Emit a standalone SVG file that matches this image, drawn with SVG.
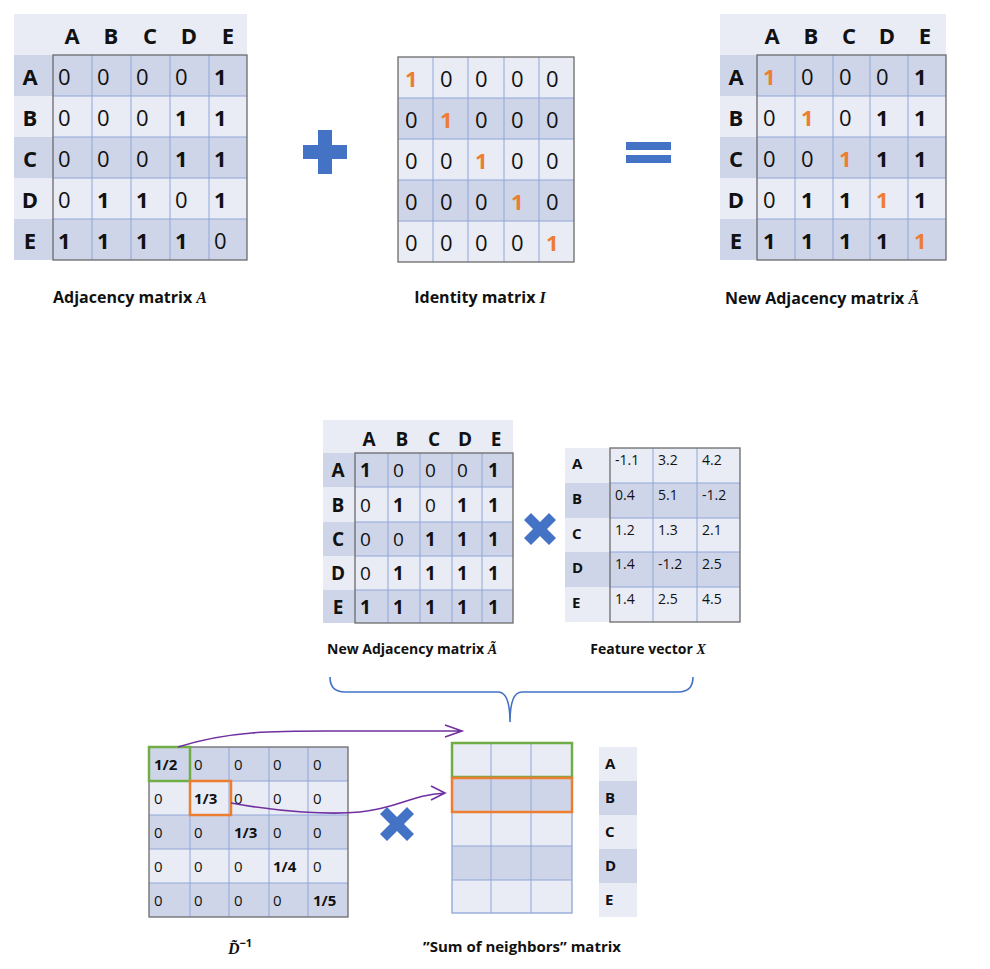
<svg xmlns="http://www.w3.org/2000/svg" width="990" height="969" viewBox="0 0 990 969">
<style>
text{font-family:"Open Sans","Liberation Sans",sans-serif;fill:#111}
.dk{fill:#cfd5e8}.lt{fill:#e9ebf5}
.gl{stroke:#8fa6d8;stroke-width:1;fill:none}
.ob{fill:none;stroke:#6b6b6b;stroke-width:1.3}
.t{font-size:22px}.h{font-size:22px;font-weight:bold}
.b{font-weight:bold}.o{font-weight:bold;fill:#ed7d31}
.m{font-size:19px}.mh{font-size:19px;font-weight:bold}
.s{font-size:14px}.sl{font-size:15px;font-weight:bold}
.d{font-size:15px}
.cap{font-size:16px;font-weight:bold;text-anchor:middle}
.mi{font-family:"Liberation Serif",serif;font-style:italic;font-weight:bold}
.sym{fill:#4472c4}
.pu{fill:none;stroke:#7030a0;stroke-width:1.6}
</style>
<rect width="990" height="969" fill="#fff"/>

<g id="matrixA">
<rect x="14" y="14" width="233" height="41" class="lt"/>
<rect x="14" y="55" width="233" height="41" class="dk"/>
<rect x="14" y="96" width="233" height="41" class="lt"/>
<rect x="14" y="137" width="233" height="41" class="dk"/>
<rect x="14" y="178" width="233" height="41" class="lt"/>
<rect x="14" y="219" width="233" height="41" class="dk"/>
<path class="gl" d="M92 55V260M131 55V260M170 55V260M209 55V260M53 96H247M53 137H247M53 178H247M53 219H247"/>
<rect x="53" y="55" width="194" height="205" class="ob"/>
<g class="h" text-anchor="middle"><text x="72" y="44">A</text><text x="111" y="44">B</text><text x="150" y="44">C</text><text x="189" y="44">D</text><text x="228" y="44">E</text>
<text x="30" y="85">A</text><text x="30" y="126">B</text><text x="30" y="167">C</text><text x="30" y="208">D</text><text x="30" y="249">E</text></g>
<g class="t">
<text x="58" y="85">0</text><text x="97" y="85">0</text><text x="136" y="85">0</text><text x="175" y="85">0</text><text x="214" y="85" class="b">1</text>
<text x="58" y="126">0</text><text x="97" y="126">0</text><text x="136" y="126">0</text><text x="175" y="126" class="b">1</text><text x="214" y="126" class="b">1</text>
<text x="58" y="167">0</text><text x="97" y="167">0</text><text x="136" y="167">0</text><text x="175" y="167" class="b">1</text><text x="214" y="167" class="b">1</text>
<text x="58" y="208">0</text><text x="97" y="208" class="b">1</text><text x="136" y="208" class="b">1</text><text x="175" y="208">0</text><text x="214" y="208" class="b">1</text>
<text x="58" y="249" class="b">1</text><text x="97" y="249" class="b">1</text><text x="136" y="249" class="b">1</text><text x="175" y="249" class="b">1</text><text x="214" y="249">0</text>
</g>
<text x="130" y="303" class="cap">Adjacency matrix <tspan class="mi">A</tspan></text>
</g>

<g id="plus"><path class="sym" d="M318 130h14v15h15v14h-15v15h-14v-15h-15v-14h15z"/></g>

<g id="identity">
<rect x="398" y="57" width="176" height="41" class="lt"/>
<rect x="398" y="98" width="176" height="41" class="dk"/>
<rect x="398" y="139" width="176" height="41" class="lt"/>
<rect x="398" y="180" width="176" height="41" class="dk"/>
<rect x="398" y="221" width="176" height="41" class="lt"/>
<path class="gl" d="M433 57V262M468 57V262M504 57V262M539 57V262M398 98H574M398 139H574M398 180H574M398 221H574"/>
<rect x="398" y="57" width="176" height="205" class="ob"/>
<g class="t">
<text x="405" y="87" class="o">1</text><text x="440" y="87">0</text><text x="475" y="87">0</text><text x="511" y="87">0</text><text x="546" y="87">0</text>
<text x="405" y="128">0</text><text x="440" y="128" class="o">1</text><text x="475" y="128">0</text><text x="511" y="128">0</text><text x="546" y="128">0</text>
<text x="405" y="169">0</text><text x="440" y="169">0</text><text x="475" y="169" class="o">1</text><text x="511" y="169">0</text><text x="546" y="169">0</text>
<text x="405" y="210">0</text><text x="440" y="210">0</text><text x="475" y="210">0</text><text x="511" y="210" class="o">1</text><text x="546" y="210">0</text>
<text x="405" y="251">0</text><text x="440" y="251">0</text><text x="475" y="251">0</text><text x="511" y="251">0</text><text x="546" y="251" class="o">1</text>
</g>
<text x="480" y="303" class="cap">Identity matrix <tspan class="mi">I</tspan></text>
</g>

<g id="equals"><rect x="626" y="142" width="45" height="8" class="sym"/><rect x="626" y="155" width="45" height="8" class="sym"/></g>

<g id="newA">
<rect x="720" y="14" width="226" height="41" class="lt"/>
<rect x="720" y="55" width="226" height="41" class="dk"/>
<rect x="720" y="96" width="226" height="41" class="lt"/>
<rect x="720" y="137" width="226" height="41" class="dk"/>
<rect x="720" y="178" width="226" height="41" class="lt"/>
<rect x="720" y="219" width="226" height="41" class="dk"/>
<path class="gl" d="M795 55V260M833 55V260M870 55V260M908 55V260M757 96H946M757 137H946M757 178H946M757 219H946"/>
<rect x="757" y="55" width="189" height="205" class="ob"/>
<g class="h" text-anchor="middle"><text x="772" y="44">A</text><text x="811" y="44">B</text><text x="849" y="44">C</text><text x="887" y="44">D</text><text x="925" y="44">E</text>
<text x="736" y="85">A</text><text x="736" y="126">B</text><text x="736" y="167">C</text><text x="736" y="208">D</text><text x="736" y="249">E</text></g>
<g class="t">
<text x="763" y="85" class="o">1</text><text x="801" y="85">0</text><text x="839" y="85">0</text><text x="876" y="85">0</text><text x="914" y="85" class="b">1</text>
<text x="763" y="126">0</text><text x="801" y="126" class="o">1</text><text x="839" y="126">0</text><text x="876" y="126" class="b">1</text><text x="914" y="126" class="b">1</text>
<text x="763" y="167">0</text><text x="801" y="167">0</text><text x="839" y="167" class="o">1</text><text x="876" y="167" class="b">1</text><text x="914" y="167" class="b">1</text>
<text x="763" y="208">0</text><text x="801" y="208" class="b">1</text><text x="839" y="208" class="b">1</text><text x="876" y="208" class="o">1</text><text x="914" y="208" class="b">1</text>
<text x="763" y="249" class="b">1</text><text x="801" y="249" class="b">1</text><text x="839" y="249" class="b">1</text><text x="876" y="249" class="b">1</text><text x="914" y="249" class="o">1</text>
</g>
<text x="822" y="304" class="cap">New Adjacency matrix <tspan class="mi">Ã</tspan></text>
</g>

<g id="newA2">
<rect x="323" y="420" width="190" height="33" class="lt"/>
<rect x="323" y="453" width="190" height="34" class="dk"/>
<rect x="323" y="487" width="190" height="35" class="lt"/>
<rect x="323" y="522" width="190" height="34" class="dk"/>
<rect x="323" y="556" width="190" height="34" class="lt"/>
<rect x="323" y="590" width="190" height="33" class="dk"/>
<path class="gl" d="M388 453V623M420 453V623M452 453V623M482 453V623M355 487H513M355 522H513M355 556H513M355 590H513"/>
<rect x="355" y="453" width="158" height="170" class="ob"/>
<g class="mh" text-anchor="middle"><text x="369" y="446">A</text><text x="402" y="446">B</text><text x="434" y="446">C</text><text x="465" y="446">D</text><text x="496" y="446">E</text>
<text x="338" y="477">A</text><text x="338" y="512">B</text><text x="338" y="546">C</text><text x="338" y="580">D</text><text x="338" y="614">E</text></g>
<g class="m">
<text x="360" y="477" class="b">1</text><text x="393" y="477">0</text><text x="425" y="477">0</text><text x="457" y="477">0</text><text x="488" y="477" class="b">1</text>
<text x="360" y="512">0</text><text x="393" y="512" class="b">1</text><text x="425" y="512">0</text><text x="457" y="512" class="b">1</text><text x="488" y="512" class="b">1</text>
<text x="360" y="546">0</text><text x="393" y="546">0</text><text x="425" y="546" class="b">1</text><text x="457" y="546" class="b">1</text><text x="488" y="546" class="b">1</text>
<text x="360" y="580">0</text><text x="393" y="580" class="b">1</text><text x="425" y="580" class="b">1</text><text x="457" y="580" class="b">1</text><text x="488" y="580" class="b">1</text>
<text x="360" y="614" class="b">1</text><text x="393" y="614" class="b">1</text><text x="425" y="614" class="b">1</text><text x="457" y="614" class="b">1</text><text x="488" y="614" class="b">1</text>
</g>
<text x="412" y="654" class="cap" style="font-size:14px">New Adjacency matrix <tspan class="mi">Ã</tspan></text>
</g>

<g id="times1"><path class="sym" d="M524 520l7-7 9 9 9-9 7 7-9 9 9 9-7 7-9-9-9 9-7-7 9-9z"/></g>

<g id="featureX">
<rect x="565" y="448" width="175" height="35" class="lt"/>
<rect x="565" y="483" width="175" height="35" class="dk"/>
<rect x="565" y="518" width="175" height="34" class="lt"/>
<rect x="565" y="552" width="175" height="35" class="dk"/>
<rect x="565" y="587" width="175" height="35" class="lt"/>
<path class="gl" d="M653 448V622M697 448V622M610 483H740M610 518H740M610 552H740M610 587H740"/>
<rect x="610" y="448" width="130" height="174" class="ob"/>
<g class="sl"><text x="572" y="469">A</text><text x="572" y="504">B</text><text x="572" y="539">C</text><text x="572" y="573">D</text><text x="572" y="608">E</text></g>
<g class="s">
<text x="615" y="465">-1.1</text><text x="658" y="465">3.2</text><text x="702" y="465">4.2</text>
<text x="615" y="500">0.4</text><text x="658" y="500">5.1</text><text x="702" y="500">-1.2</text>
<text x="615" y="535">1.2</text><text x="658" y="535">1.3</text><text x="702" y="535">2.1</text>
<text x="615" y="569">1.4</text><text x="658" y="569">-1.2</text><text x="702" y="569">2.5</text>
<text x="615" y="604">1.4</text><text x="658" y="604">2.5</text><text x="702" y="604">4.5</text>
</g>
<text x="648" y="654" class="cap" style="font-size:14px">Feature vector <tspan class="mi">X</tspan></text>
</g>

<g id="Dinv">
<rect x="149" y="747" width="199" height="34" class="dk"/>
<rect x="149" y="781" width="199" height="34" class="lt"/>
<rect x="149" y="815" width="199" height="34" class="dk"/>
<rect x="149" y="849" width="199" height="34" class="lt"/>
<rect x="149" y="883" width="199" height="34" class="dk"/>
<path class="gl" d="M190 747V917M229 747V917M269 747V917M308 747V917M149 781H348M149 815H348M149 849H348M149 883H348"/>
<rect x="149" y="747" width="199" height="170" class="ob"/>
<rect x="149" y="747" width="41" height="34" fill="none" stroke="#70ad47" stroke-width="2.5"/>
<rect x="190" y="781" width="41" height="34" fill="none" stroke="#ed7d31" stroke-width="2.5"/>
<g class="d">
<text x="154" y="770" class="b">1/2</text><text x="194" y="770">0</text><text x="234" y="770">0</text><text x="273" y="770">0</text><text x="313" y="770">0</text>
<text x="154" y="804">0</text><text x="194" y="804" class="b">1/3</text><text x="234" y="804">0</text><text x="273" y="804">0</text><text x="313" y="804">0</text>
<text x="154" y="838">0</text><text x="194" y="838">0</text><text x="234" y="838" class="b">1/3</text><text x="273" y="838">0</text><text x="313" y="838">0</text>
<text x="154" y="872">0</text><text x="194" y="872">0</text><text x="234" y="872">0</text><text x="273" y="872" class="b">1/4</text><text x="313" y="872">0</text>
<text x="154" y="906">0</text><text x="194" y="906">0</text><text x="234" y="906">0</text><text x="273" y="906">0</text><text x="313" y="906" class="b">1/5</text>
</g>
<text x="240" y="954" class="cap"><tspan class="mi">D̃</tspan><tspan font-size="11" dy="-7">−1</tspan></text>
</g>

<g id="times2"><path class="sym" d="M380 814l7-7 10 10 10-10 7 7-10 10 10 10-7 7-10-10-10 10-7-7 10-10z"/></g>

<g id="sumNeighbors">
<rect x="452" y="743" width="120" height="34" class="lt"/>
<rect x="452" y="777" width="120" height="35" class="dk"/>
<rect x="452" y="812" width="120" height="34" class="lt"/>
<rect x="452" y="846" width="120" height="34" class="dk"/>
<rect x="452" y="880" width="120" height="33" class="lt"/>
<path class="gl" d="M491 743V913M531 743V913M452 777H572M452 812H572M452 846H572M452 880H572"/>
<rect x="452" y="743" width="120" height="170" fill="none" stroke="#8fa6d8" stroke-width="1.3"/>
<rect x="452" y="743" width="120" height="34" fill="none" stroke="#70ad47" stroke-width="2.5"/>
<rect x="452" y="778" width="120" height="34" fill="none" stroke="#ed7d31" stroke-width="2.5"/>
<rect x="599" y="747" width="38" height="34" class="lt"/>
<rect x="599" y="781" width="38" height="34" class="dk"/>
<rect x="599" y="815" width="38" height="34" class="lt"/>
<rect x="599" y="849" width="38" height="34" class="dk"/>
<rect x="599" y="883" width="38" height="34" class="lt"/>
<g class="sl"><text x="605" y="769">A</text><text x="605" y="803">B</text><text x="605" y="837">C</text><text x="605" y="871">D</text><text x="605" y="905">E</text></g>
<text x="522" y="952" class="cap" style="font-size:15px">”Sum of neighbors” matrix</text>
</g>

<g id="connectors">
<path d="M330 677Q330 692 345 692H498Q510 692 510 722Q510 692 522 692H678Q693 692 693 677" fill="none" stroke="#4472c4" stroke-width="1.6"/>
<path class="pu" d="M178 747C230 730 280 731 340 731H462M445 725L462 731L445 737"/>
<path class="pu" d="M231 803C280 812 330 815 360 812C400 808 410 795 445 793M431 786L445 793L431 800"/>
</g>
</svg>
